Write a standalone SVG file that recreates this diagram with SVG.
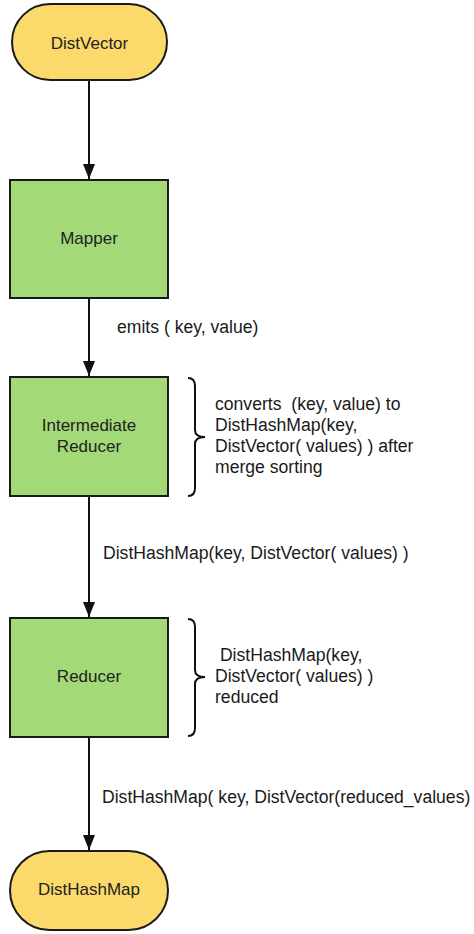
<svg xmlns="http://www.w3.org/2000/svg" width="474" height="934" viewBox="0 0 474 934">
<style>
.t{font-family:"Liberation Sans",Arial,sans-serif;font-size:17.6px;fill:#1a1a1a}
.n{font-family:"Liberation Sans",Arial,sans-serif;font-size:17px;fill:#222;text-anchor:middle;dominant-baseline:central}
.term{fill:#fcd96b;stroke:#1a1a1a;stroke-width:2}
.proc{fill:#a3d977;stroke:#1a1a1a;stroke-width:2}
.edge{stroke:#111;stroke-width:2;fill:none}
.brace{stroke:#111;stroke-width:2;fill:none}
</style>
<defs>
<marker id="ah" viewBox="0 0 15 12" refX="15" refY="6" markerWidth="7.5" markerHeight="6" markerUnits="strokeWidth" orient="auto">
<path d="M0,0 L15,6 L0,12 z" fill="#111"/>
</marker>
</defs>
<rect width="474" height="934" fill="#fff"/>
<g id="connectors">
<line class="edge" x1="89" y1="81" x2="89" y2="179" marker-end="url(#ah)"/>
<line class="edge" x1="89" y1="299" x2="89" y2="376" marker-end="url(#ah)"/>
<line class="edge" x1="89" y1="497" x2="89" y2="617" marker-end="url(#ah)"/>
<line class="edge" x1="89" y1="738" x2="89" y2="850" marker-end="url(#ah)"/>
<text class="t" x="117" y="333">emits ( key, value)</text>
<text class="t" x="103" y="559">DistHashMap(key, DistVector( values) )</text>
<text class="t" x="102" y="803">DistHashMap( key, DistVector(reduced_values)</text>
</g>
<g id="distvector">
<rect class="term" x="12" y="4" width="155" height="76" rx="38" ry="38"/>
<text class="n" x="89.5" y="43">DistVector</text>
</g>
<g id="mapper">
<rect class="proc" x="10" y="180" width="158" height="118"/>
<text class="n" x="89" y="238">Mapper</text>
</g>
<g id="intermediate-reducer">
<rect class="proc" x="10" y="377" width="158" height="119"/>
<text class="n" x="89" y="425">Intermediate</text>
<text class="n" x="89" y="446">Reducer</text>
<path class="brace" d="M188,378 Q195,378 195,386 L195,430 Q195,437 205,437 Q195,437 195,444 L195,488 Q195,496 188,496"/>
<text class="t" x="215" y="410" xml:space="preserve">converts  (key, value) to</text>
<text class="t" x="215" y="431">DistHashMap(key,</text>
<text class="t" x="215" y="452">DistVector( values) ) after</text>
<text class="t" x="215" y="473">merge sorting</text>
</g>
<g id="reducer">
<rect class="proc" x="10" y="618" width="158" height="119"/>
<text class="n" x="89" y="676">Reducer</text>
<path class="brace" d="M188,619 Q195,619 195,627 L195,670 Q195,677 205,677 Q195,677 195,684 L195,728 Q195,736 188,736"/>
<text class="t" x="215" y="661" xml:space="preserve"> DistHashMap(key,</text>
<text class="t" x="215" y="682">DistVector( values) )</text>
<text class="t" x="215" y="703">reduced</text>
</g>
<g id="disthashmap">
<rect class="term" x="10" y="851" width="158" height="79" rx="39.5" ry="39.5"/>
<text class="n" x="89" y="889">DistHashMap</text>
</g>
</svg>
